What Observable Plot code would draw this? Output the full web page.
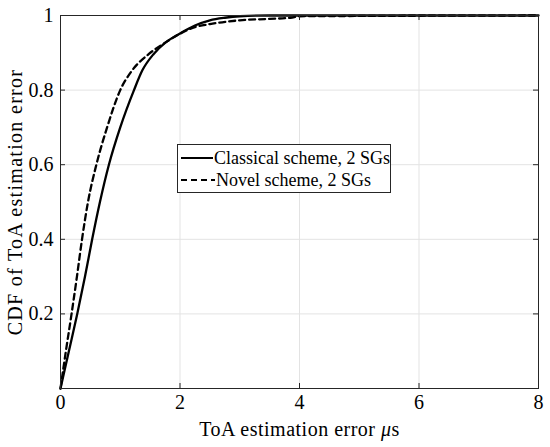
<!DOCTYPE html>
<html>
<head>
<meta charset="utf-8">
<script src="https://cdn.jsdelivr.net/npm/d3@7"></script>
<script src="https://cdn.jsdelivr.net/npm/@observablehq/plot@0.6"></script>
<style>
  html, body { margin: 0; padding: 0; background: #fff; }
  #wrap { position: relative; width: 550px; height: 447px; font-family: "Liberation Serif", "Times New Roman", serif; }
  #legend { position: absolute; left: 177px; top: 144px; width: 214px; height: 49px; border: 1px solid #262626; background: #fff; box-sizing: border-box; padding-top: 2px; }
  .row { display: flex; align-items: center; height: 22px; font-size: 18px; color: #000; white-space: nowrap; }
  .row svg { margin-left: 3px; margin-right: 1px; }
  .xlab text { letter-spacing: 0.5px; }
  .ylab text { letter-spacing: 1.3px; }
</style>
</head>
<body>
<div id="wrap"></div>
<script>
// Data
const classicalX = [0, 0.14, 0.28, 0.41, 0.53, 0.66, 0.81, 1.00, 1.23, 1.37, 1.56, 1.76, 2.00, 2.25, 2.50, 2.75, 3.00, 3.50, 8];
const classicalY = [0, 0.10, 0.20, 0.30, 0.40, 0.50, 0.60, 0.70, 0.80, 0.853, 0.897, 0.928, 0.952, 0.973, 0.987, 0.994, 0.998, 1.0, 1.0];
const novelX = [0, 0.09, 0.185, 0.275, 0.36, 0.46, 0.60, 0.78, 1.00, 1.20, 1.48, 1.76, 2.00, 2.25, 2.50, 3.00, 3.50, 3.85, 4.00, 8];
const novelY = [0, 0.10, 0.20, 0.30, 0.40, 0.50, 0.60, 0.70, 0.80, 0.853, 0.897, 0.928, 0.951, 0.969, 0.977, 0.987, 0.991, 0.994, 0.998, 1.0];
const xTicks = [0, 2, 4, 6, 8];
const yTicks = [0.2, 0.4, 0.6, 0.8, 1];
const seriesNames = ["Classical scheme, 2 SGs", "Novel scheme, 2 SGs"];
const xLabel = "ToA estimation error ";
const xUnit = "μs";
const yLabel = "CDF of ToA estimation error";

const W = 550, H = 447, mL = 60, mR = 12, mT = 15, mB = 59;
const innerW = W - mL - mR, innerH = H - mT - mB;
const axisColor = "#262626", gridColor = "#e3e3e3";

const classical = classicalX.map((x, i) => ({x, y: classicalY[i]}));
const novel = novelX.map((x, i) => ({x, y: novelY[i]}));

const chart = Plot.plot({
  width: W, height: H,
  marginLeft: mL, marginRight: mR, marginTop: mT, marginBottom: mB,
  style: {fontFamily: "'Liberation Serif', 'Times New Roman', serif", fontSize: "20px", background: "#fff", color: "#000"},
  x: {domain: [0, 8]},
  y: {domain: [0, 1]},
  marks: [
    Plot.gridX(xTicks, {stroke: gridColor, strokeOpacity: 1}),
    Plot.gridY(yTicks, {stroke: gridColor, strokeOpacity: 1}),
    Plot.line(classical, {x: "x", y: "y", stroke: "#000", strokeWidth: 2.3, curve: "monotone-x"}),
    Plot.line(novel, {x: "x", y: "y", stroke: "#000", strokeWidth: 2.3, strokeDasharray: "6,4", curve: "monotone-x"}),
    Plot.frame({stroke: axisColor, strokeWidth: 1}),
    Plot.tickX(xTicks, {x: d => d, insetTop: innerH - 5, stroke: axisColor}),
    Plot.tickX(xTicks, {x: d => d, insetBottom: innerH - 5, stroke: axisColor}),
    Plot.tickY(yTicks, {y: d => d, insetRight: innerW - 5, stroke: axisColor}),
    Plot.tickY(yTicks, {y: d => d, insetLeft: innerW - 5, stroke: axisColor}),
    Plot.axisX(xTicks, {tickSize: 0, tickPadding: 6, fontSize: 20, fill: "#000", label: null}),
    Plot.axisY(yTicks, {tickSize: 0, tickPadding: 7, fontSize: 20, fill: "#000", label: null, tickFormat: d => String(d)}),
    Plot.text([xLabel], {frameAnchor: "bottom", dy: 41, fontSize: 20, fill: "#000", lineAnchor: "middle", textAnchor: "middle", className: "xlab"}),
    Plot.text([yLabel], {frameAnchor: "left", dx: -45, rotate: -90, fontSize: 20, fill: "#000", lineAnchor: "middle", textAnchor: "middle", className: "ylab"})
  ]
});

document.getElementById("wrap").appendChild(chart);

// italic unit on x label
const xl = chart.querySelector(".xlab text");
if (xl) {
  xl.textContent = xLabel;
  const ts = document.createElementNS("http://www.w3.org/2000/svg", "tspan");
  ts.textContent = xUnit.slice(0, 1);
  ts.setAttribute("font-style", "italic");
  xl.appendChild(ts);
  const ts2 = document.createElementNS("http://www.w3.org/2000/svg", "tspan");
  ts2.textContent = xUnit.slice(1);
  xl.appendChild(ts2);
}

// legend
const legend = document.createElement("div");
legend.id = "legend";
const dashes = [null, "6,4"];
seriesNames.forEach((name, i) => {
  const row = document.createElement("div");
  row.className = "row";
  row.innerHTML = `<svg width="34" height="10"><line x1="0" y1="5" x2="34" y2="5" stroke="#000" stroke-width="2.2" ${dashes[i] ? `stroke-dasharray="${dashes[i]}"` : ""}/></svg><span>${name}</span>`;
  legend.appendChild(row);
});
document.getElementById("wrap").appendChild(legend);
</script>
</body>
</html>
